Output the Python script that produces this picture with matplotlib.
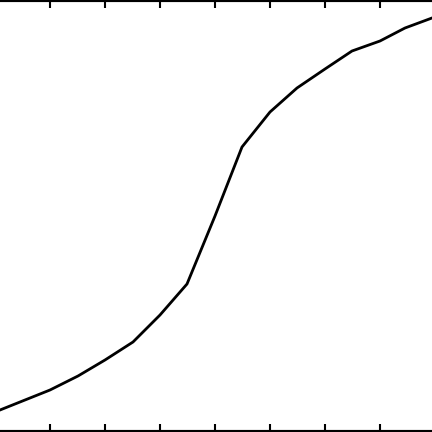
import numpy as np
import matplotlib.pyplot as plt

x = [0, 50, 78, 105, 133, 160, 187, 215, 242, 270, 297, 325, 352, 380, 405, 432]
y = [22, 42, 56, 72, 90, 117, 148, 216, 285, 320, 344, 363, 381, 391, 404, 414]

fig = plt.figure(figsize=(4.32, 4.32), dpi=100)
ax = fig.add_axes([0, 0, 1, 1])
ax.plot(x, y, color="black", linewidth=2.0)
ax.set_xlim(0, 432)
ax.set_ylim(0, 432)
ax.set_xticks([50, 105, 160, 215, 270, 325, 380])
ax.set_yticks([])
ax.tick_params(axis="x", direction="in", top=True, length=6, width=1.5,
               labelbottom=False)
for s in ax.spines.values():
    s.set_linewidth(3)
ax.spines["left"].set_visible(False)
ax.spines["right"].set_visible(False)
fig.savefig("out.png", dpi=100)
plt.close(fig)
